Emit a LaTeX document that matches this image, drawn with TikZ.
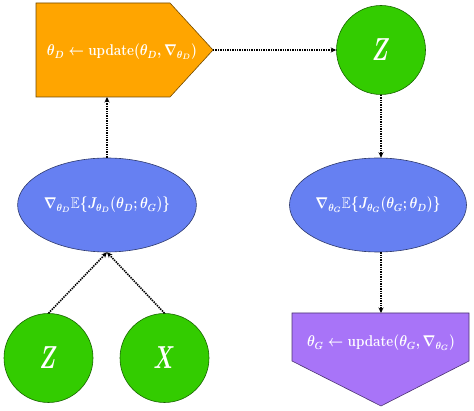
\documentclass[tikz,border=0pt]{standalone}
\usepackage{graphicx}
\usepackage{amsmath,amssymb}
\usetikzlibrary{shapes.geometric,arrows.meta}
\definecolor{cOrange}{HTML}{FFA500}
\definecolor{cGreen}{HTML}{33CC00}
\definecolor{cBlue}{HTML}{6680F2}
\definecolor{cPurple}{HTML}{A874F8}
\newcommand{\bigtxt}[1]{\scalebox{1.12}[1.3]{#1}}
\newcommand{\hugetxt}[1]{\scalebox{0.85}[1.28]{#1}}
\tikzset{
  lbl/.style={text=white,font=\fontsize{12}{14}\selectfont\bfseries\boldmath,inner sep=0pt},
  varcirc/.style={circle,fill=cGreen,draw=cGreen!50!black,line width=0.6pt,minimum size=89pt,inner sep=0pt,text=white,font=\fontsize{24.88}{30}\selectfont\boldmath},
  gradell/.style={ellipse,fill=cBlue,draw=cBlue!45!black,line width=0.6pt,minimum width=140pt,minimum height=94pt,inner sep=0pt,text=white,font=\fontsize{12}{14}\selectfont\bfseries\boldmath},
  conn/.style={line width=1.6pt,dash pattern=on 1.4pt off 1pt,-{Stealth[length=5.5pt,width=5pt]}}
}
\begin{document}
\begin{tikzpicture}[x=1pt,y=-1pt]
\useasboundingbox (0,0) rectangle (474,411);
% orange update box
\draw[fill=cOrange,draw=cOrange!45!black,line width=0.6pt] (36,3) -- (170,3) -- (213,50) -- (170,97) -- (36,97) -- cycle;
\node[lbl] (updD) at (122,52) {\bigtxt{$\theta_D \leftarrow \mathbf{update}(\theta_D,\nabla_{\theta_D})$}};
\coordinate (updDtip) at (213,50);
\coordinate (updDbot) at (107,97);
% purple update box
\draw[fill=cPurple,draw=cPurple!45!black,line width=0.6pt] (292,313) -- (469,313) -- (469,361) -- (381,406) -- (292,361) -- cycle;
\node[lbl] (updG) at (381,343) {\bigtxt{$\theta_G \leftarrow \mathbf{update}(\theta_G,\nabla_{\theta_G})$}};
\coordinate (updGtop) at (381,313);
% circles
\node[varcirc] (zTop) at (381,50) {\hugetxt{$Z$}};
\node[varcirc] (zBot) at (48.5,358) {\hugetxt{$Z$}};
\node[varcirc] (xBot) at (164.5,358) {\hugetxt{$X$}};
% ellipses
\node[gradell] (gradD) at (107,205) {\bigtxt{$\nabla_{\theta_D}\mathbb{E}\{J_{\theta_D}(\theta_D;\theta_G)\}$}};
\node[gradell] (gradG) at (378,205) {\bigtxt{$\nabla_{\theta_G}\mathbb{E}\{J_{\theta_G}(\theta_G;\theta_D)\}$}};
% connectors
\draw[conn] (updDtip) -- (zTop.west);
\draw[conn] (zTop.south) -- (zTop.south |- gradG.north);
\draw[conn] (gradG.south -| updGtop) -- (updGtop);
\draw[conn] (gradD.north) -- (updDbot);
\draw[conn] (zBot.north) -- (gradD.south);
\draw[conn] (xBot.north) -- (gradD.south);
\end{tikzpicture}
\end{document}
